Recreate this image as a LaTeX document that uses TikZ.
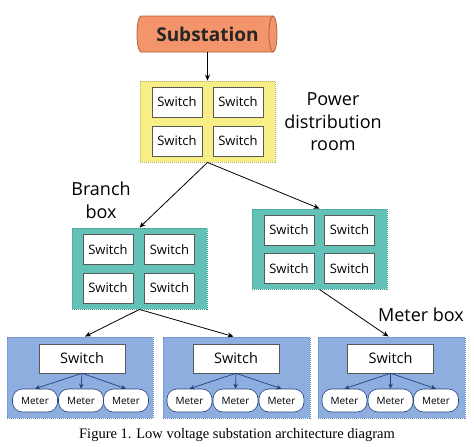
\documentclass[tikz,border=0pt]{standalone}
\usepackage{fontspec}
\setmainfont{Open Sans}
\newfontfamily\capfont{Liberation Serif}
\usetikzlibrary{arrows.meta}
\definecolor{subfill}{HTML}{F3946A}
\definecolor{subline}{HTML}{B0603E}
\definecolor{yel}{HTML}{F7EE86}
\definecolor{yelline}{HTML}{B5AE6A}
\definecolor{teal1}{HTML}{63C2B7}
\definecolor{tealline}{HTML}{3E9A90}
\definecolor{blu}{HTML}{8EAEE0}
\definecolor{bluline}{HTML}{6585BD}
\definecolor{navy1}{HTML}{22427E}
\tikzset{
  container/.style={minimum width=#1, inner sep=0pt, line width=0.9pt, dash pattern=on 1pt off 1pt},
  swbox/.style={draw=black!65, fill=white, line width=0.6pt, minimum width=50pt, minimum height=30pt, inner sep=0pt, font=\fontsize{13}{15}\selectfont},
  bigsw/.style={swbox, minimum width=86pt, minimum height=29pt, font=\fontsize{14.5}{16}\selectfont},
  meterbox/.style={draw=navy1, fill=white, line width=0.6pt, rounded corners=10pt, minimum width=45pt, minimum height=23pt, inner sep=0pt, font=\fontsize{10}{12}\selectfont},
  conn/.style={-{Stealth[length=6pt,width=5pt]}, line width=0.8pt, black},
  bconn/.style={-{Stealth[length=5pt,width=4.5pt]}, line width=0.7pt, navy1},
  lbl/.style={align=center, font=\fontsize{18}{22.5}\selectfont, inner sep=0pt}
}
\begin{document}
\begin{tikzpicture}[x=1pt,y=-1pt]
\useasboundingbox (0,0) rectangle (474,447);
% Substation cylinder
\fill[subfill] (273,16) -- (141,16) arc[start angle=270,end angle=90,x radius=4,y radius=18] -- (273,52) -- cycle;
\draw[subline, line width=0.8pt] (273,16) -- (141,16) arc[start angle=270,end angle=90,x radius=4,y radius=18] -- (273,52);
\draw[subline, fill=subfill, line width=0.8pt] (273,34) ellipse[x radius=4, y radius=18];
\node[minimum width=141pt, minimum height=36pt, inner sep=0pt, font=\fontsize{19}{21}\selectfont\bfseries, text=black!85] (sub) at (207.5,34) {Substation};

% Power distribution room
\node[container=135pt, minimum height=81pt, fill=yel, draw=yelline] (pdr) at (207.5,121.5) {};
\node[swbox] (p1) at (177,102) {Switch};
\node[swbox] (p2) at (238,102) {Switch};
\node[swbox] (p3) at (177,141) {Switch};
\node[swbox] (p4) at (238,141) {Switch};
\node[lbl] (pdrl) at (333,122) {Power\\distribution\\room};

% Branch box
\node[container=135pt, minimum height=81pt, fill=teal1, draw=tealline] (bb) at (139.5,268.5) {};
\node[swbox] (b1) at (108,249.5) {Switch};
\node[swbox] (b2) at (169.5,249.5) {Switch};
\node[swbox] (b3) at (108,288) {Switch};
\node[swbox] (b4) at (169.5,288) {Switch};
\node[lbl, align=center] (bbl) at (101,200) {Branch\\box};

% Meter box switch panel
\node[container=135pt, minimum height=80pt, fill=teal1, draw=tealline] (mb) at (319.5,249) {};
\node[swbox] (m1) at (289,230) {Switch};
\node[swbox] (m2) at (349.5,230) {Switch};
\node[swbox] (m3) at (289,268.5) {Switch};
\node[swbox] (m4) at (349.5,268.5) {Switch};
\node[lbl] (mbl) at (421,315) {Meter box};

% Bottom meter boxes
\node[container=146pt, minimum height=81pt, fill=blu, draw=bluline] (c1) at (80,377.5) {};
\node[container=147pt, minimum height=81pt, fill=blu, draw=bluline] (c2) at (236.5,377.5) {};
\node[container=147pt, minimum height=81pt, fill=blu, draw=bluline] (c3) at (391.5,377.5) {};
\node[bigsw] (s1) at (82,358.5) {Switch};
\node[bigsw] (s2) at (236,358.5) {Switch};
\node[bigsw] (s3) at (390.5,358.5) {Switch};
\node[meterbox] (a1) at (35,400.5) {Meter};
\node[meterbox] (a2) at (81,400.5) {Meter};
\node[meterbox] (a3) at (126,400.5) {Meter};
\node[meterbox] (d1) at (189.5,400.5) {Meter};
\node[meterbox] (d2) at (235.5,400.5) {Meter};
\node[meterbox] (d3) at (281.5,400.5) {Meter};
\node[meterbox] (e1) at (344.5,400.5) {Meter};
\node[meterbox] (e2) at (390.5,400.5) {Meter};
\node[meterbox] (e3) at (436,400.5) {Meter};

% Connectors
\draw[conn] (sub.south) -- (pdr.north);
\draw[conn] (pdr.south) -- (bb.north);
\draw[conn] (pdr.south) -- (mb.north);
\draw[conn] (bb.south) -- ([xshift=5pt]c1.north);
\draw[conn] (bb.south) -- ([xshift=-3pt]c2.north);
\draw[conn] (mb.south) -- ([xshift=-3pt]c3.north);
\foreach \s/\m in {s1/a1,s1/a2,s1/a3,s2/d1,s2/d2,s2/d3,s3/e1,s3/e2,s3/e3}
  \draw[bconn] (\s.south) -- (\m.north);

% Caption
\node[font=\capfont\fontsize{14.5}{16}\selectfont, inner sep=0pt] (cap) at (237,435) {Figure 1. Low voltage substation architecture diagram};
\end{tikzpicture}
\end{document}
